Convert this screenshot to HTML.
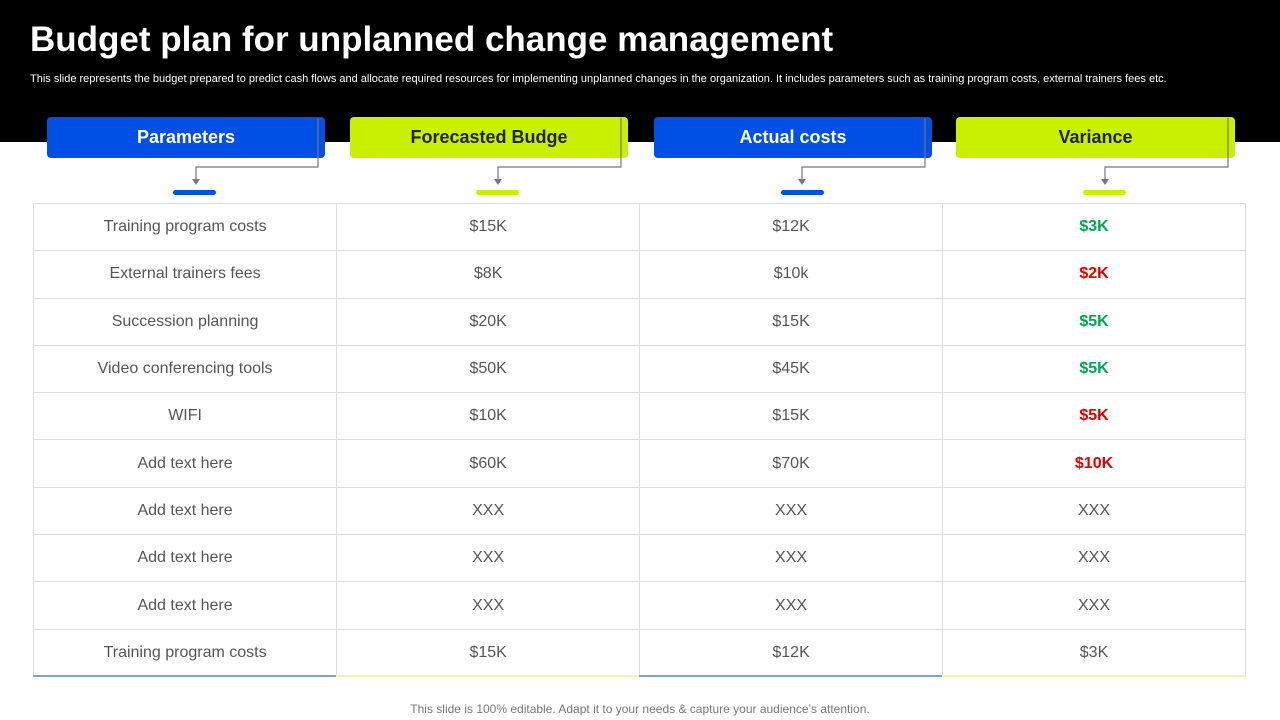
<!DOCTYPE html>
<html><head><meta charset="utf-8"><style>
body{margin:0;width:1280px;height:720px;position:relative;overflow:hidden;background:#fff;font-family:"Liberation Sans",sans-serif}
.a{position:absolute}
.hdr{position:absolute;top:117px;height:41px;border-radius:4px;font-weight:bold;font-size:18px;display:flex;align-items:center;justify-content:center}
table{position:absolute;left:33px;top:203px;border-collapse:collapse;width:1213px}
td{border:1px solid #ddd;height:46.3px;padding:0;text-align:center;color:#555;font-size:16px;width:303px}
.g{color:#00a651;font-weight:bold}.r{color:#e00000;font-weight:bold}
</style></head><body>
<div class="a" style="left:0;top:0;width:1280px;height:142px;background:#000"></div>
<div class="a" style="left:30px;top:20px;color:#fff;font-size:35px;font-weight:bold">Budget plan for unplanned change management</div>
<div class="a" style="left:30px;top:72px;width:1210px;color:#fff;font-size:11px;line-height:14px">This slide represents the budget prepared to predict cash flows and allocate required resources for implementing unplanned changes in the organization. It includes parameters such as training program costs, external trainers fees etc.</div>
<div class="hdr" style="left:47px;width:278px;background:#0050e6;color:#fff">Parameters</div>
<div class="hdr" style="left:350px;width:278px;background:#c8f000;color:#222">Forecasted Budge</div>
<div class="hdr" style="left:654px;width:278px;background:#0050e6;color:#fff">Actual costs</div>
<div class="hdr" style="left:956px;width:279px;background:#c8f000;color:#222">Variance</div>
<svg class="a" style="left:0;top:0" width="1280" height="200">
<g fill="none" stroke="#777" stroke-width="1.2">
<path d="M318 118V167H196V180"/><path d="M621 118V167H498V180"/><path d="M925 118V167H802V180"/><path d="M1228 118V167H1105V180"/>
</g><g fill="#777"><path d="M192 179h8l-4 6z"/><path d="M494 179h8l-4 6z"/><path d="M798 179h8l-4 6z"/><path d="M1101 179h8l-4 6z"/></g>
<rect x="173" y="190" width="43" height="5" rx="2.5" fill="#0050e6"/><rect x="476" y="190" width="43" height="5" rx="2.5" fill="#c8f000"/>
<rect x="781" y="190" width="43" height="5" rx="2.5" fill="#0050e6"/><rect x="1083" y="190" width="43" height="5" rx="2.5" fill="#c8f000"/>
</svg>
<table>
<tr><td>Training program costs</td><td>$15K</td><td>$12K</td><td class="g">$3K</td></tr>
<tr><td>External trainers fees</td><td>$8K</td><td>$10k</td><td class="r">$2K</td></tr>
<tr><td>Succession planning</td><td>$20K</td><td>$15K</td><td class="g">$5K</td></tr>
<tr><td>Video conferencing tools</td><td>$50K</td><td>$45K</td><td class="g">$5K</td></tr>
<tr><td>WIFI</td><td>$10K</td><td>$15K</td><td class="r">$5K</td></tr>
<tr><td>Add text here</td><td>$60K</td><td>$70K</td><td class="r">$10K</td></tr>
<tr><td>Add text here</td><td>XXX</td><td>XXX</td><td>XXX</td></tr>
<tr><td>Add text here</td><td>XXX</td><td>XXX</td><td>XXX</td></tr>
<tr><td>Add text here</td><td>XXX</td><td>XXX</td><td>XXX</td></tr>
<tr><td>Training program costs</td><td>$15K</td><td>$12K</td><td>$3K</td></tr>
</table>
<div class="a" style="left:33px;top:675px;width:303px;height:2px;background:#7fa6c0"></div>
<div class="a" style="left:336px;top:675px;width:303px;height:2px;background:#eef7b0"></div>
<div class="a" style="left:639px;top:675px;width:303px;height:2px;background:#7fa6c0"></div>
<div class="a" style="left:942px;top:675px;width:304px;height:2px;background:#eef7b0"></div>
<div class="a" style="left:0;width:1280px;top:702px;text-align:center;font-size:12px;color:#777">This slide is 100% editable. Adapt it to your needs &amp; capture your audience’s attention.</div>
</body></html>
